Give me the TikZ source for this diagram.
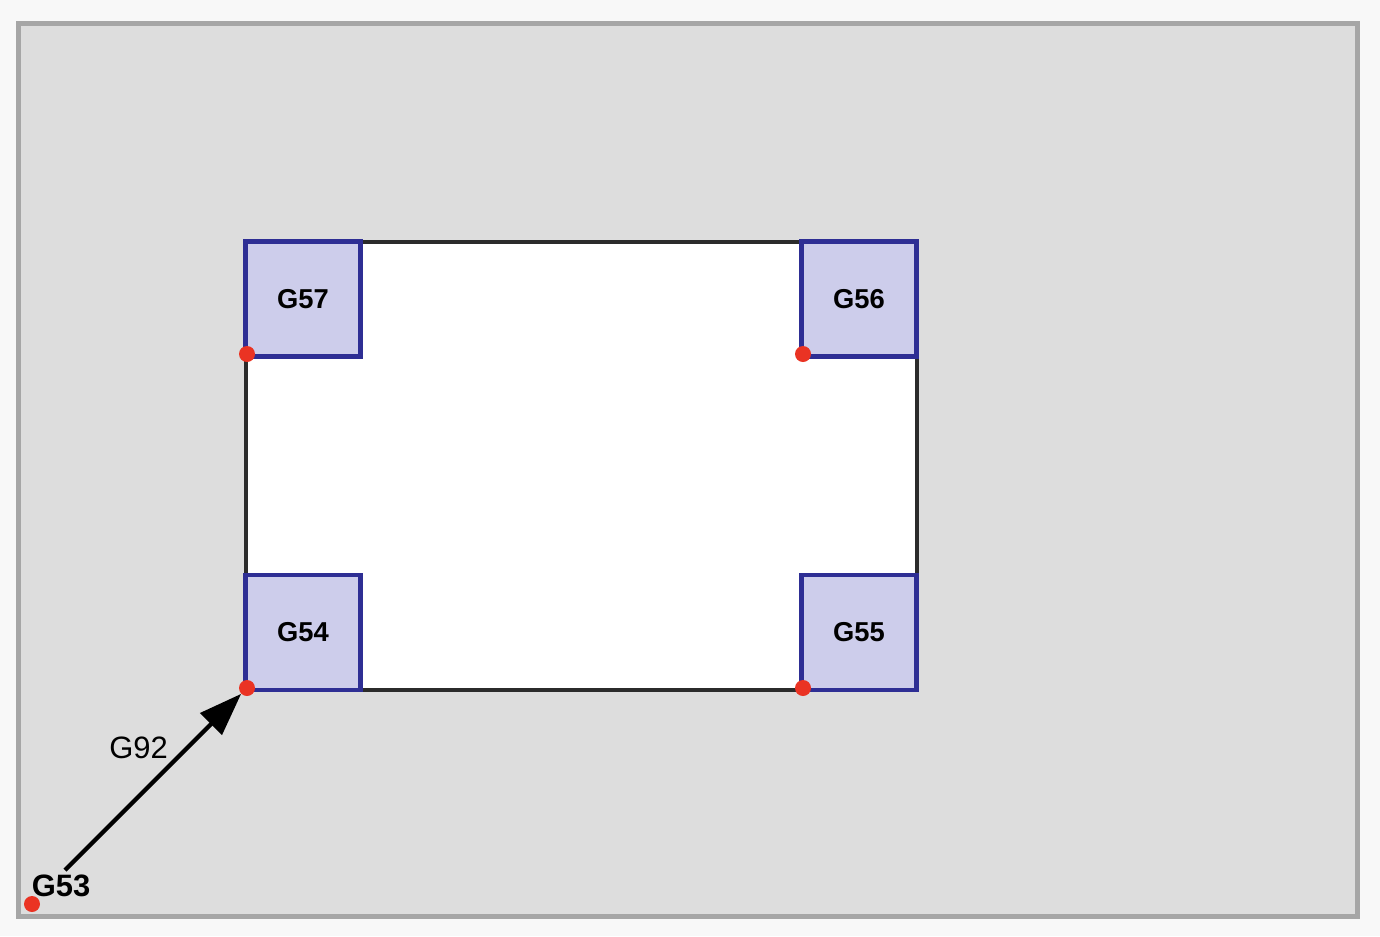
\documentclass[tikz,border=0pt]{standalone}
\usepackage{fontspec}
\setmainfont{Liberation Sans}
\usetikzlibrary{arrows.meta}
\definecolor{pagebg}{HTML}{F8F8F8}
\definecolor{areabg}{HTML}{DDDDDD}
\definecolor{areaedge}{HTML}{A6A6A6}
\definecolor{boxfill}{HTML}{CDCDEB}
\definecolor{boxedge}{HTML}{2E2E94}
\definecolor{dotred}{HTML}{EA3323}
\definecolor{frameedge}{HTML}{2B2B2B}
\tikzset{
  cornerbox/.style={draw=boxedge, fill=boxfill, line width=3.4pt, minimum size=86.25pt, inner sep=0pt,
    font=\fontsize{20.5}{21}\selectfont\bfseries},
  reddot/.style={circle, fill=dotred, inner sep=0pt, minimum size=12pt},
  biglabel/.style={inner sep=0pt, font=\fontsize{23.2}{24}\selectfont},
  offsetarrow/.style={line width=3.2pt, -{Triangle[length=32pt,width=22.5pt]}}
}
\begin{document}
\begin{tikzpicture}[x=0.75pt,y=-0.75pt]
\useasboundingbox (0,0) rectangle (1380,936);
\fill[pagebg] (0,0) rectangle (1380,936);
\draw[areaedge, fill=areabg, line width=3.2pt] (18.5,23.5) rectangle (1357.5,916.5);
\draw[frameedge, fill=white, line width=3pt] (245.5,241.5) rectangle (916.5,689.5);
\node[cornerbox] (b57) at (303,299) {G57};
\node[cornerbox] (b56) at (859,299) {G56};
\node[cornerbox] (b54) at (303,632.5) {G54};
\node[cornerbox] (b55) at (859,632.5) {G55};
\node[reddot] (d57) at (247,354) {};
\node[reddot] (d56) at (803,354) {};
\node[reddot] (d54) at (247,688) {};
\node[reddot] (d55) at (803,688) {};
\node[reddot] (d53) at (32,904) {};
\node[biglabel, font=\fontsize{23.2}{24}\selectfont\bfseries] (g53) at (61,886) {G53};
\node[biglabel] (g92) at (138.5,748) {G92};
\coordinate (tail) at (65,870);
\draw[offsetarrow] (tail) -- (d54);
\end{tikzpicture}
\end{document}
